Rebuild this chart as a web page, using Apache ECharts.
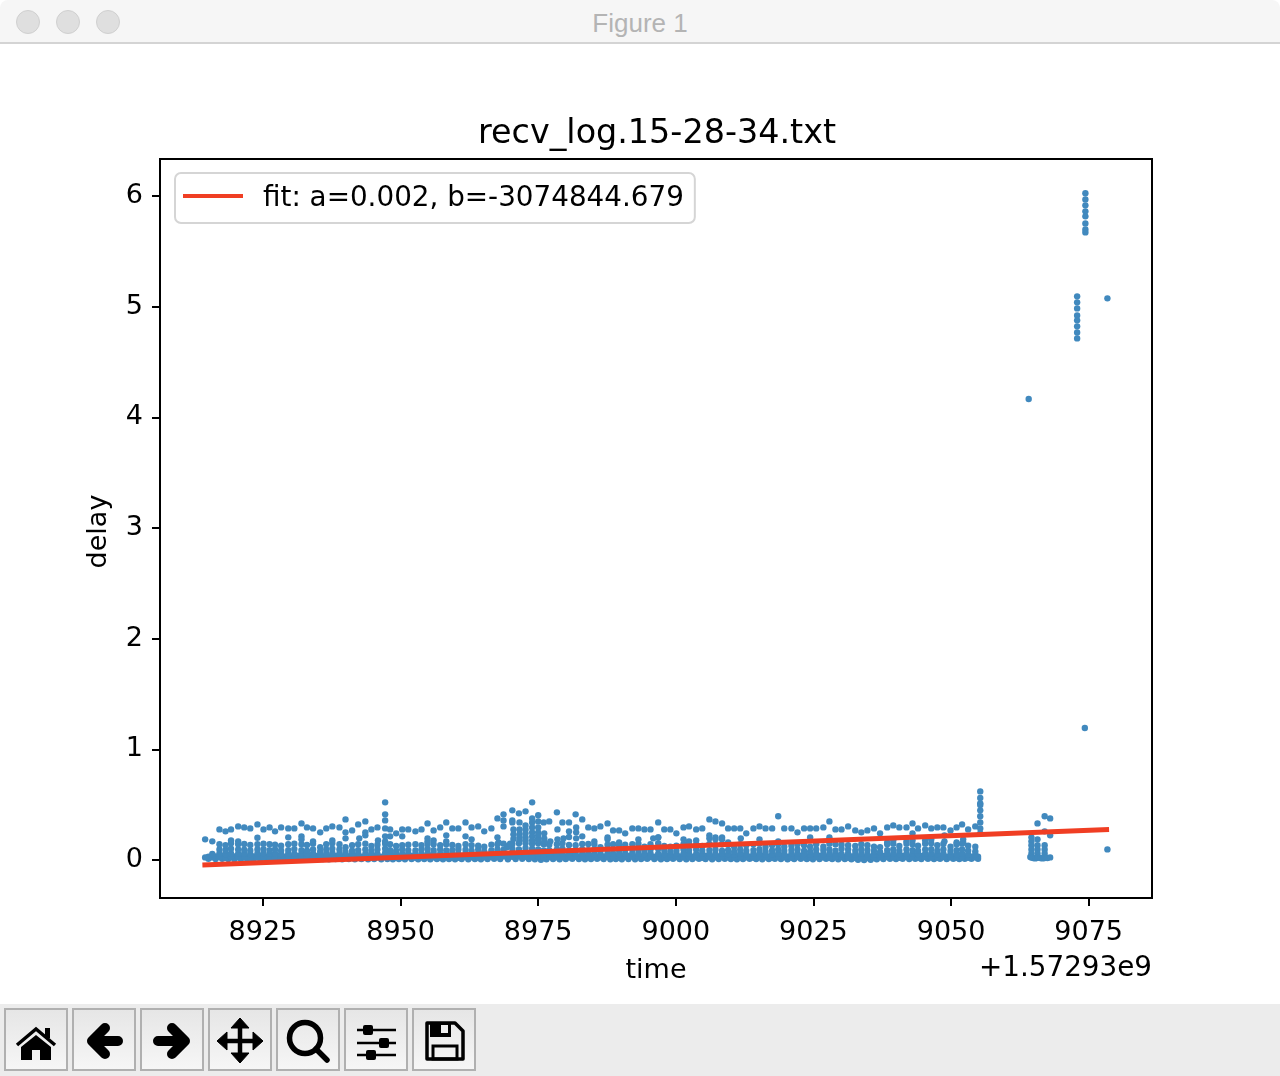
<!DOCTYPE html>
<html>
<head>
<meta charset="utf-8">
<title>Figure 1</title>
<script src="https://cdn.jsdelivr.net/npm/echarts@6/dist/echarts.min.js"></script>
<style>
    html, body { margin: 0; padding: 0; background: #fff; overflow: hidden; }
    #main { position: absolute; left: 0; top: 0; width: 1280px; height: 1076px; }
    #titlebar { position: absolute; left: 0; top: 0; width: 1280px; height: 42px; background: #f6f6f6; border-bottom: 2px solid #d4d4d4;
        text-align: center; font: 26px/47px "Liberation Sans", sans-serif; color: #b4b4b4; border-radius: 8px 8px 0 0; }
    .light { position: absolute; top: 10px; width: 22px; height: 22px; border-radius: 50%; background: #dfdfdf; border: 1px solid #d0d0d0; }
    #toolbar { position: absolute; left: 0; top: 1004px; width: 1280px; height: 72px; background: #ececec; }
    .btn { position: absolute; top: 4px; width: 60px; height: 59px; border: 2px solid #b0b0b0; background: linear-gradient(#e6e6e6, #f6f6f6); }
    .btn svg { position: absolute; left: 0; top: 0; width: 60px; height: 59px; }
</style>
</head>
<body>
<div id="main"></div>
<div id="titlebar">Figure 1
    <div class="light" style="left:16px"></div>
    <div class="light" style="left:56px"></div>
    <div class="light" style="left:96px"></div>
</div>
<div id="toolbar">
    <div class="btn" style="left:4px"><svg viewBox="0 0 60 59"><path d="M11 35 L30 19 L49 35" fill="none" stroke="#000" stroke-width="3.5"/><path d="M30 25 L45 37 L45 50 L34 50 L34 40 L26 40 L26 50 L15 50 L15 37 Z"/><rect x="39" y="18" width="5" height="10"/></svg></div>
    <div class="btn" style="left:72px"><svg viewBox="0 0 60 59"><path d="M44 31 L18 31 M31 18 L18 31 L31 44" fill="none" stroke="#000" stroke-width="10" stroke-linecap="round" stroke-linejoin="round"/></svg></div>
    <div class="btn" style="left:140px"><svg viewBox="0 0 60 59"><path d="M16 31 L43 31 M30 18 L43 31 L30 44" fill="none" stroke="#000" stroke-width="10" stroke-linecap="round" stroke-linejoin="round"/></svg></div>
    <div class="btn" style="left:208px"><svg viewBox="0 0 60 59"><path d="M30 15 L30 46 M14 31 L46 31" stroke="#000" stroke-width="4.5"/><path d="M30 8 L39 18 L21 18 Z M30 53 L39 43 L21 43 Z M7 31 L17 22 L17 40 Z M53 31 L43 22 L43 40 Z" stroke="#000" stroke-width="1" stroke-linejoin="round"/></svg></div>
    <div class="btn" style="left:276px"><svg viewBox="0 0 60 59"><circle cx="27" cy="28" r="15.5" fill="none" stroke="#000" stroke-width="5.5"/><path d="M38 39 L49 50" stroke="#000" stroke-width="5.5" stroke-linecap="round"/></svg></div>
    <div class="btn" style="left:344px"><svg viewBox="0 0 60 59"><path d="M11 20 L50 20 M11 33 L50 33 M11 45 L50 45" stroke="#000" stroke-width="2.7"/><rect x="17" y="15" width="10" height="10" rx="2"/><rect x="33" y="28" width="10" height="10" rx="2"/><rect x="20" y="40" width="10" height="10" rx="2"/></svg></div>
    <div class="btn" style="left:412px"><svg viewBox="0 0 60 59"><path d="M13 13 L41 13 L49 21 L49 49 L13 49 Z" fill="none" stroke="#000" stroke-width="3.5" stroke-linejoin="round"/><path d="M16 13 L37 13 L37 27 L16 27 Z"/><rect x="27" y="15" width="7" height="8" fill="#eee"/><rect x="19" y="36" width="24" height="13" fill="none" stroke="#000" stroke-width="3"/></svg></div>
</div>
<script>
var xTicks = [8925, 8950, 8975, 9000, 9025, 9050, 9075];
var yTicks = [0, 1, 2, 3, 4, 5, 6];

var fitName = "fit: a=0.002, b=-3074844.679";
var fitTimes = [8914.0, 9078.7];
var fitDelays = [-0.045, 0.277];

// one column of packets about every 1.1s
var colTimes = [8914.5,8915.8,8917.1,8918.2,8919.2,8920.5,8921.6,8922.7,8924.0,8925.1,
    8926.2,8927.2,8928.3,8929.6,8930.7,8932.0,8933.0,8934.1,8935.4,8936.5,
    8937.6,8938.9,8940.0,8941.2,8942.3,8943.6,8944.7,8945.8,8947.2,8948.1,
    8949.2,8950.3,8951.4,8952.7,8953.8,8954.9,8956.0,8957.2,8958.3,8959.4,
    8960.5,8961.8,8962.9,8964.1,8965.2,8966.5,8967.6,8968.7,8970.3,8971.5,
    8972.7,8973.9,8975.0,8976.0,8977.0,8978.4,8979.4,8980.6,8981.8,8983.0,
    8984.1,8985.2,8986.3,8987.6,8988.6,8989.7,8990.8,8992.1,8993.2,8994.3,
    8995.4,8996.8,8997.9,8999.0,9000.1,9001.4,9002.4,9003.7,9004.8,9006.1,
    9007.2,9008.4,9009.5,9010.6,9011.7,9012.8,9014.1,9015.2,9016.3,9017.5,
    9018.6,9019.7,9021.0,9022.1,9023.3,9024.4,9025.5,9026.8,9027.9,9029.0,
    9030.1,9031.3,9032.6,9033.7,9034.8,9036.0,9037.1,9038.4,9039.5,9040.6,
    9041.9,9043.0,9044.0,9045.3,9046.4,9047.5,9048.6,9049.9,9051.0,9052.0,
    9053.1,9054.4];
var topDelays = [0.187,0.169,0.277,0.259,0.277,0.304,0.295,0.286,0.322,0.277,
    0.295,0.259,0.295,0.286,0.286,0.331,0.295,0.286,0.250,0.286,
    0.304,0.295,0.367,0.268,0.322,0.349,0.277,0.295,0.521,0.277,
    0.241,0.277,0.277,0.259,0.277,0.331,0.268,0.295,0.340,0.286,
    0.286,0.340,0.295,0.304,0.259,0.286,0.376,0.413,0.449,0.422,
    0.440,0.521,0.404,0.340,0.349,0.431,0.340,0.340,0.413,0.367,
    0.295,0.286,0.304,0.331,0.268,0.268,0.241,0.286,0.286,0.277,
    0.277,0.340,0.277,0.277,0.241,0.295,0.304,0.277,0.286,0.367,
    0.349,0.331,0.286,0.286,0.286,0.241,0.286,0.304,0.286,0.286,
    0.395,0.286,0.286,0.250,0.286,0.286,0.286,0.295,0.349,0.277,
    0.277,0.304,0.268,0.250,0.268,0.286,0.241,0.295,0.313,0.295,
    0.295,0.331,0.286,0.313,0.286,0.295,0.295,0.268,0.295,0.322,
    0.277,0.304];
var rowB = [null,null,0.142,0.133,0.151,0.142,0.145,0.136,0.142,0.148,
    0.142,0.139,0.130,0.142,0.148,0.142,0.136,0.148,0.115,0.142,
    0.151,0.142,0.115,0.133,0.142,0.148,0.127,0.139,0.148,0.142,
    0.127,0.133,0.139,0.142,0.133,0.148,0.142,0.133,0.142,0.136,
    0.127,0.142,0.133,0.130,0.121,0.139,0.142,0.148,0.145,0.151,
    0.151,0.148,0.151,0.142,0.139,0.142,0.151,0.136,0.133,0.145,
    0.145,0.142,0.115,0.139,0.142,0.133,0.139,0.142,0.148,0.121,
    0.142,0.151,0.127,0.121,0.130,0.142,0.148,0.142,0.127,0.145,
    0.136,0.142,0.139,0.121,0.142,0.133,0.142,0.148,0.121,0.133,
    0.142,0.121,0.130,0.142,0.133,0.121,0.142,0.121,0.148,0.142,
    0.139,0.133,0.127,0.142,0.133,0.121,0.115,0.142,0.148,0.127,
    0.148,0.142,0.130,0.148,0.151,0.133,0.145,0.121,0.142,0.148,
    0.130,0.121];
var rowC = [null,null,0.096,0.090,0.102,0.096,0.093,0.087,0.096,0.099,
    0.090,0.096,0.087,0.090,0.099,0.090,0.084,0.096,0.078,0.096,
    0.102,0.096,0.072,0.084,0.090,0.096,0.084,0.096,0.102,0.090,
    0.084,0.096,0.090,0.087,0.096,0.102,0.090,0.096,0.087,0.090,
    0.096,0.093,0.084,0.096,0.078,0.087,0.096,0.093,0.102,0.096,
    0.108,0.102,0.096,0.087,0.090,0.096,0.102,0.084,0.090,0.096,
    0.090,0.096,0.078,0.090,0.096,0.087,0.096,0.102,0.093,0.084,
    0.096,0.102,0.090,0.078,0.087,0.096,0.090,0.096,0.087,0.090,
    0.093,0.084,0.090,0.078,0.096,0.084,0.090,0.096,0.078,0.087,
    0.096,0.084,0.090,0.096,0.084,0.078,0.096,0.090,0.096,0.084,
    0.102,0.096,0.084,0.096,0.090,0.081,0.072,0.090,0.096,0.084,
    0.096,0.090,0.084,0.096,0.099,0.084,0.096,0.081,0.090,0.096,
    0.084,0.078];
var rowD = [null,0.054,0.060,0.054,0.060,0.057,0.060,0.054,0.060,0.063,
    0.057,0.060,0.054,0.060,0.057,0.060,0.054,0.060,0.051,0.060,
    0.063,0.060,0.051,0.057,0.060,0.054,0.060,0.054,0.063,0.057,
    0.060,0.054,0.060,0.057,0.054,0.060,0.063,0.057,0.054,0.060,
    0.057,0.060,0.054,0.060,0.051,0.057,0.060,0.066,0.060,0.063,
    0.060,0.066,0.060,0.054,0.060,0.057,0.060,0.054,0.060,0.057,
    0.060,0.054,0.051,0.060,0.057,0.054,0.060,0.063,0.057,0.054,
    0.060,0.057,0.054,0.051,0.060,0.057,0.060,0.054,0.060,0.057,
    0.054,0.060,0.054,0.051,0.060,0.054,0.057,0.060,0.051,0.054,
    0.060,0.054,0.057,0.060,0.054,0.051,0.060,0.054,0.057,0.060,
    0.054,0.060,0.051,0.057,0.054,0.051,0.048,0.057,0.060,0.054,
    0.057,0.060,0.054,0.057,0.060,0.054,0.057,0.051,0.054,0.057,
    0.051,0.048];
var rowE = [0.024,0.024,0.027,0.021,0.027,0.024,0.027,0.021,0.024,0.027,
    0.024,0.021,0.027,0.024,0.021,0.027,0.024,0.027,0.021,0.024,
    0.027,0.024,0.021,0.027,0.024,0.021,0.027,0.024,0.030,0.024,
    0.021,0.024,0.027,0.021,0.024,0.027,0.024,0.021,0.027,0.024,
    0.021,0.027,0.024,0.021,0.024,0.027,0.030,0.033,0.030,0.033,
    0.030,0.027,0.030,0.024,0.027,0.024,0.027,0.024,0.030,0.027,
    0.024,0.027,0.024,0.027,0.024,0.021,0.027,0.030,0.027,0.024,
    0.027,0.024,0.021,0.024,0.027,0.024,0.027,0.024,0.021,0.027,
    0.024,0.027,0.024,0.021,0.027,0.024,0.021,0.027,0.024,0.021,
    0.027,0.024,0.021,0.027,0.024,0.021,0.027,0.024,0.021,0.027,
    0.024,0.021,0.018,0.021,0.018,0.021,0.024,0.027,0.024,0.021,
    0.027,0.024,0.021,0.027,0.024,0.021,0.027,0.024,0.021,0.024,
    0.021,0.024];

// dots between the columns, they fill the band along the bottom
var bandTimes = [8915.1,8916.4,8917.6,8918.7,8919.8,8921.0,8922.1,8923.3,8924.5,8925.6,
    8926.7,8927.7,8928.9,8930.1,8931.3,8932.5,8933.5,8934.7,8935.9,8937.0,
    8938.2,8939.4,8940.6,8941.7,8942.9,8944.1,8945.2,8946.5,8947.6,8948.6,
    8949.7,8950.8,8952.0,8953.2,8954.3,8955.4,8956.6,8957.7,8958.8,8959.9,
    8961.1,8962.3,8963.5,8964.6,8965.8,8967.0,8968.1,8969.5,8970.9,8972.1,
    8973.3,8974.4,8975.5,8976.5,8977.7,8978.9,8980.0,8981.2,8982.4,8983.5,
    8984.6,8985.7,8986.9,8988.1,8989.1,8990.2,8991.4,8992.6,8993.7,8994.8,
    8996.1,8997.3,8998.4,8999.5,9000.7,9001.9,9003.0,9004.2,9005.4,9006.6,
    9007.8,9008.9,9010.0,9011.1,9012.2,9013.4,9014.6,9015.7,9016.9,9018.0,
    9019.1,9020.3,9021.5,9022.7,9023.8,9024.9,9026.1,9027.3,9028.4,9029.5,
    9030.7,9031.9,9033.1,9034.2,9035.4,9036.5,9037.7,9038.9,9040.0,9041.2,
    9042.4,9043.5,9044.6,9045.8,9046.9,9048.0,9049.2,9050.4,9051.5,9052.5,
    9053.7,9054.9];
var bandDelays = [0.012,0.009,0.012,0.009,0.006,0.009,0.012,0.006,0.009,0.006,
    0.009,0.006,0.009,0.006,0.009,0.006,0.009,0.006,0.009,0.006,
    0.009,0.006,0.009,0.006,0.009,0.006,0.009,0.006,0.009,0.006,
    0.009,0.006,0.009,0.006,0.009,0.006,0.009,0.006,0.009,0.006,
    0.009,0.006,0.009,0.006,0.009,0.012,0.009,0.006,0.009,0.012,
    0.009,0.006,0.003,0.006,0.009,0.006,0.009,0.012,0.009,0.006,
    0.009,0.012,0.009,0.006,0.009,0.006,0.009,0.006,0.009,0.012,
    0.009,0.006,0.009,0.012,0.009,0.006,0.009,0.012,0.009,0.006,
    0.009,0.012,0.009,0.006,0.009,0.012,0.009,0.006,0.009,0.012,
    0.009,0.006,0.009,0.012,0.009,0.006,0.009,0.012,0.009,0.006,
    0.009,0.006,0.003,0.000,0.003,0.006,0.009,0.012,0.009,0.012,
    0.009,0.012,0.009,0.012,0.009,0.012,0.009,0.012,0.009,0.012,
    0.012,0.012];
var bandUpper = [0.030,0.033,0.036,0.030,0.033,0.036,0.030,0.033,0.036,0.030,
    0.033,0.036,0.030,0.033,0.036,0.030,0.033,0.036,0.030,0.033,
    0.036,0.030,0.033,0.036,0.030,0.033,0.036,0.030,0.033,0.036,
    0.030,0.033,0.036,0.030,0.033,0.036,0.030,0.033,0.036,0.030,
    0.033,0.036,0.030,0.033,0.036,0.039,0.042,0.045,0.042,0.039,
    0.042,0.039,0.036,0.033,0.036,0.030,0.033,0.036,0.030,0.033,
    0.036,0.030,0.033,0.036,0.030,0.033,0.036,0.030,0.033,0.036,
    0.030,0.033,0.036,0.030,0.033,0.036,0.030,0.033,0.036,0.030,
    0.033,0.036,0.030,0.033,0.036,0.030,0.033,0.036,0.030,0.033,
    0.036,0.030,0.033,0.036,0.030,0.033,0.036,0.030,0.033,0.036,
    0.030,0.033,0.030,0.027,0.030,0.033,0.036,0.030,0.033,0.036,
    0.030,0.033,0.036,0.030,0.033,0.036,0.030,0.033,0.036,0.030,
    0.030,0.030];

// points above the regular rows, sparse
var upperTimes = [8919.2,8920.5,8924.0,8929.6,8932.0,8932.0,8934.1,8937.6,8940.0,8940.0,
    8942.5,8943.6,8943.6,8945.9,8947.2,8947.2,8947.2,8947.2,8947.2,8948.1,
    8950.3,8954.9,8954.9,8956.0,8958.3,8958.3,8961.8,8962.9,8967.6,8967.8,
    8975.0,8976.1,8976.1,8977.2,8978.5,8978.5,8979.6,8980.6,8980.6,8981.9,
    8981.9,8981.9,8983.0,8985.2,8987.6,8987.6,8989.7,8993.2,8995.9,8996.8,
    8996.8,9001.4,9002.4,9003.7,9006.1,9006.1,9007.2,9007.2,9008.4,9008.4,
    9009.5,9011.8,9015.2,9018.6,9024.4,9027.9,9027.9,9038.4,9039.5,9041.9,
    9043.0,9043.0,9045.3,9046.4,9048.8,9048.8,9051.0,9052.2,9052.2];
var upperDelays = [0.178,0.169,0.202,0.205,0.214,0.187,0.169,0.178,0.196,0.250,
    0.196,0.223,0.250,0.178,0.214,0.169,0.286,0.358,0.413,0.214,
    0.214,0.196,0.169,0.178,0.223,0.169,0.214,0.187,0.205,0.160,
    0.196,0.241,0.196,0.169,0.187,0.277,0.196,0.208,0.259,0.196,
    0.250,0.295,0.214,0.169,0.187,0.205,0.160,0.187,0.196,0.205,
    0.205,0.187,0.169,0.178,0.223,0.196,0.205,0.187,0.205,0.187,
    0.160,0.196,0.187,0.169,0.205,0.205,0.178,0.160,0.178,0.169,
    0.241,0.178,0.178,0.187,0.223,0.169,0.160,0.187,0.160];

// the dense burst around 8970 to 8976
var burstTimes = [8968.7,8968.7,8969.3,8969.6,8969.9,8970.3,8970.3,8970.5,8970.5,8970.5,
    8971.6,8971.6,8971.6,8971.6,8971.6,8972.7,8972.7,8972.7,8972.7,8972.7,
    8973.9,8973.9,8973.9,8973.9,8973.9,8973.9,8975.0,8975.0,8975.0,8975.0,
    8975.0,8976.1];
var burstDelays = [0.358,0.304,0.115,0.130,0.148,0.358,0.340,0.277,0.232,0.190,
    0.340,0.277,0.232,0.205,0.178,0.313,0.277,0.241,0.205,0.178,
    0.376,0.340,0.295,0.250,0.214,0.178,0.349,0.295,0.250,0.223,
    0.178,0.169];

// spike at the end of the long run, then the short group after the gap
var spikeTimes = [9055.3,9055.3,9055.3,9055.3,9055.3,9055.3,9055.3,9055.3,9055.3];
var spikeDelays = [0.620,0.560,0.512,0.497,0.449,0.395,0.340,0.286,0.241];
var groupTimes = [9064.6,9064.6,9064.6,9064.6,9064.6,9064.6,9064.4,9064.9,9065.3,
    9065.7,9065.7,9065.7,9065.7,9065.7,9065.7,9066.2,9066.6,
    9067.0,9067.0,9067.0,9067.0,9067.0,9067.0,9067.5,9068.0,9068.0,9068.0];
var groupDelays = [0.205,0.169,0.133,0.096,0.060,0.024,0.027,0.018,0.015,
    0.331,0.187,0.133,0.096,0.060,0.020,0.018,0.015,
    0.395,0.259,0.133,0.096,0.060,0.018,0.018,0.376,0.223,0.024];

// far outliers
var outTimes = [9064.1,9074.3,9074.4,9074.4,9074.4,9074.4,9074.4,9074.4,9074.4,9074.4,
    9072.9,9072.9,9072.9,9072.9,9072.9,9072.9,9072.9,9072.9,9078.4,9078.4];
var outDelays = [4.165,1.193,6.024,5.969,5.915,5.861,5.816,5.752,5.698,5.671,
    5.093,5.039,4.984,4.921,4.876,4.822,4.767,4.713,5.075,0.096];

function addPoints(points, times, delays) {
    for (var i = 0; i < times.length; i++) {
        if (delays[i] != null) {
            points.push([times[i], delays[i]]);
        }
    }
}

var points = [];
addPoints(points, bandTimes, bandDelays);
addPoints(points, bandTimes, bandUpper);
addPoints(points, colTimes, rowE);
addPoints(points, colTimes, rowD);
addPoints(points, colTimes, rowC);
addPoints(points, colTimes, rowB);
addPoints(points, upperTimes, upperDelays);
addPoints(points, burstTimes, burstDelays);
addPoints(points, colTimes, topDelays);
addPoints(points, spikeTimes, spikeDelays);
addPoints(points, groupTimes, groupDelays);
addPoints(points, outTimes, outDelays);

var fitLine = [];
addPoints(fitLine, fitTimes, fitDelays);

var fontName = "DejaVu Sans";
var myChart = echarts.init(document.getElementById("main"), null, { renderer: "canvas" });

var option = {
    animation: false,
    backgroundColor: "#fff",
    title: {
        text: "recv_log.15-28-34.txt",
        left: 652,
        top: 113,
        textAlign: "center",
        textStyle: { fontFamily: fontName, fontSize: 33.4, fontWeight: "normal", color: "#000" }
    },
    legend: {
        left: 175,
        top: 173,
        padding: [12, 11, 10, 8],
        itemWidth: 60,
        itemHeight: 10,
        icon: "path://M0 0H60V4H0ZM0 10H0.001V10.001H0Z",
        borderColor: "#d5d5d5",
        borderWidth: 2,
        borderRadius: 6,
        backgroundColor: "rgba(255,255,255,0.8)",
        data: [fitName],
        textStyle: { fontFamily: fontName, fontSize: 27.8, color: "#000", padding: [0, 0, 0, 15] }
    },
    grid: {
        left: 160,
        top: 159,
        width: 992,
        height: 739,
        show: true,
        borderColor: "#000",
        borderWidth: 2
    },
    xAxis: {
        type: "value",
        min: 8906.3,
        max: 9086.5,
        name: "time",
        nameLocation: "middle",
        nameGap: 59,
        nameTextStyle: { fontFamily: fontName, fontSize: 27, color: "#000" },
        splitLine: { show: false },
        axisLine: { show: true, onZero: false, lineStyle: { color: "#000", width: 2 } },
        axisTick: { show: true, length: 8, customValues: xTicks, lineStyle: { color: "#000", width: 2 } },
        axisLabel: {
            customValues: xTicks,
            margin: 21,
            fontFamily: fontName,
            fontSize: 27,
            color: "#000",
            formatter: function (v) { return String(v); }
        }
    },
    yAxis: {
        type: "value",
        min: -0.343,
        max: 6.334,
        name: "delay",
        nameLocation: "middle",
        nameGap: 48,
        nameTextStyle: { fontFamily: fontName, fontSize: 27, color: "#000", padding: [0, 6, 0, 0] },
        splitLine: { show: false },
        axisLine: { show: true, onZero: false, lineStyle: { color: "#000", width: 2 } },
        axisTick: { show: true, length: 8, customValues: yTicks, lineStyle: { color: "#000", width: 2 } },
        axisLabel: {
            customValues: yTicks,
            margin: 17,
            fontFamily: fontName,
            fontSize: 27,
            color: "#000",
            formatter: function (v) { return String(v); }
        }
    },
    graphic: [{
        type: "text",
        right: 128,
        top: 955,
        style: { text: "+1.57293e9", fontFamily: fontName, fontSize: 27.8, fill: "#000" }
    }],
    series: [
        {
            name: "delay",
            type: "scatter",
            symbol: "circle",
            symbolSize: 6.4,
            itemStyle: { color: "#4189be", opacity: 1 },
            data: points,
            z: 2
        },
        {
            name: fitName,
            type: "line",
            showSymbol: false,
            symbol: "none",
            data: fitLine,
            itemStyle: { color: "#f03e23" },
            lineStyle: { color: "#f03e23", width: 5 },
            z: 3
        }
    ]
};

myChart.setOption(option);
</script>
</body>
</html>
